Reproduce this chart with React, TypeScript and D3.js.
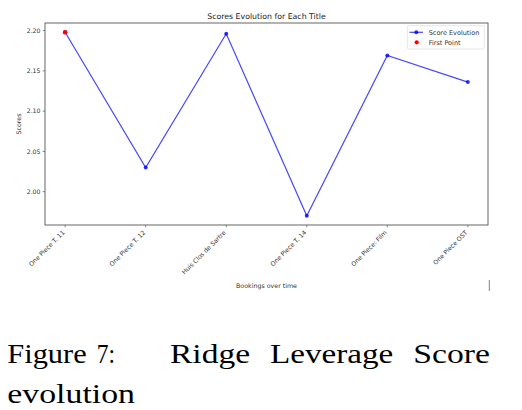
import * as d3 from 'd3';

const titles = ['One Piece T. 11', 'One Piece T. 12', 'Huis Clos de Sartre', 'One Piece T. 14', 'One Piece: Film', 'One Piece OST'];
const scores = [2.198, 2.03, 2.196, 1.97, 2.169, 2.136];
const yTicks = [2.0, 2.05, 2.1, 2.15, 2.2];

const captionLine1 = [
  { word: 'Figure', x: 7.3, w: 79.4 },
  { word: '7:', x: 96.7, w: 18.3 },
  { word: 'Ridge', x: 170, w: 80 },
  { word: 'Leverage', x: 270, w: 123.3 },
  { word: 'Score', x: 413.3, w: 76.7 },
];
const captionLine2 = [{ word: 'evolution', x: 7.3, w: 127.7 }];

const W = 522;
const H = 410;
const plot = { left: 45, right: 488, top: 23, bottom: 225 };
const sans = 'DejaVu Sans, sans-serif';
const serif = "'Liberation Serif', 'Times New Roman', serif";
const axisColor = '#555';
const textColor = '#333';

export default function App() {
  const x = d3.scalePoint<string>().domain(titles).range([plot.left, plot.right]).padding(0.25);
  const lo = d3.min(scores)!;
  const hi = d3.max(scores)!;
  const m = (hi - lo) * 0.05;
  const y = d3.scaleLinear().domain([lo - m, hi + m]).range([plot.bottom, plot.top]);

  const line = d3.line<number>()
    .x((_, i) => x(titles[i])!)
    .y(d => y(d));

  const cx = (plot.left + plot.right) / 2;

  return (
    <svg width={W} height={H} style={{ position: 'absolute', left: 0, top: 0, background: '#fff' }}>
      {/* title */}
      <text x={cx} y={18.5} textAnchor="middle" fontFamily={sans} fontSize={7.8} fill="#222">
        Scores Evolution for Each Title
      </text>

      {/* line + markers */}
      <path d={line(scores) ?? ''} fill="none" stroke="#0000ff" strokeOpacity={0.72} strokeWidth={1.2} />
      {scores.map((s, i) => (
        <circle key={i} cx={x(titles[i])} cy={y(s)} r={2} fill="#0000ff" fillOpacity={0.8} />
      ))}
      <circle cx={x(titles[0])} cy={y(scores[0])} r={2.3} fill="#ff0000" />

      {/* spines */}
      <rect x={plot.left} y={plot.top} width={plot.right - plot.left} height={plot.bottom - plot.top}
        fill="none" stroke={axisColor} strokeWidth={0.9} />

      {/* y axis */}
      {yTicks.map(t => (
        <g key={t} transform={`translate(0,${y(t)})`}>
          <line x1={plot.left - 2.3} x2={plot.left} stroke={axisColor} strokeWidth={0.7} />
          <text x={plot.left - 4.5} dy="0.35em" textAnchor="end" fontFamily={sans} fontSize={6.2} fill={textColor}>
            {t.toFixed(2)}
          </text>
        </g>
      ))}
      <text transform={`translate(19,${(plot.top + plot.bottom) / 2}) rotate(-90)`} dy="0.35em" textAnchor="middle"
        fontFamily={sans} fontSize={6.3} fill={textColor}>Scores</text>

      {/* x axis */}
      {titles.map(t => (
        <g key={t} transform={`translate(${x(t)},${plot.bottom})`}>
          <line y1={0} y2={2.3} stroke={axisColor} strokeWidth={0.7} />
          <text transform="translate(-1.5,6.5) rotate(-45)" textAnchor="end" dy="0.35em"
            fontFamily={sans} fontSize={6.2} fill={textColor}>{t}</text>
        </g>
      ))}
      <text x={cx} y={286} dy="0.35em" textAnchor="middle" fontFamily={sans} fontSize={6.3} fill={textColor}>
        Bookings over time
      </text>
      <line x1={489.3} x2={489.3} y1={280} y2={291} stroke="#666" strokeWidth={0.8} />

      {/* legend */}
      <g>
        <rect x={407.3} y={25.7} width={77} height={23.3} rx={1.5} fill="#fff" fillOpacity={0.8}
          stroke="#ddd" strokeWidth={0.7} />
        <line x1={409.5} x2={423} y1={32.3} y2={32.3} stroke="#0000ff" strokeOpacity={0.72} strokeWidth={1.2} />
        <circle cx={416.3} cy={32.3} r={2} fill="#0000ff" fillOpacity={0.8} />
        <text x={428.7} y={32.3} dy="0.35em" fontFamily={sans} fontSize={6.5} fill={textColor}>Score Evolution</text>
        <circle cx={416.7} cy={42.3} r={2.1} fill="#ff0000" />
        <text x={428.7} y={42.3} dy="0.35em" fontFamily={sans} fontSize={6.5} fill={textColor}>First Point</text>
      </g>

      {/* caption */}
      {captionLine1.map(c => (
        <text key={c.word} x={c.x} y={363.3} textLength={c.w} lengthAdjust="spacingAndGlyphs"
          fontFamily={serif} fontSize={27} fill="#000">{c.word}</text>
      ))}
      {captionLine2.map(c => (
        <text key={c.word} x={c.x} y={402.7} textLength={c.w} lengthAdjust="spacingAndGlyphs"
          fontFamily={serif} fontSize={27} fill="#000">{c.word}</text>
      ))}
    </svg>
  );
}
